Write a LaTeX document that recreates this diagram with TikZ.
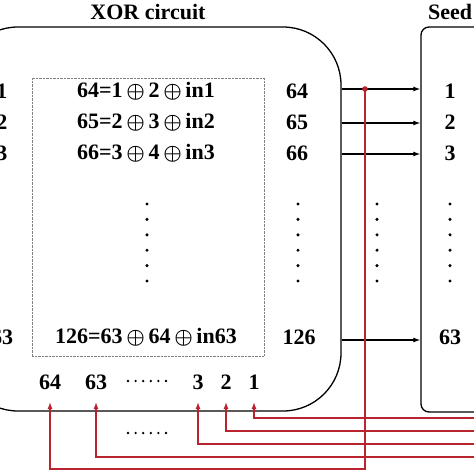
\documentclass[tikz,border=0pt]{standalone}
\usepackage{bm}
\usepackage{fontspec}
\setmainfont{Liberation Serif}
\usepackage{tikz}
\usetikzlibrary{arrows.meta,positioning,calc}
\tikzset{>=latex}
\definecolor{wirered}{RGB}{185,35,45}
\newcommand{\xo}{\,$\bm{\oplus}$\,}
\tikzset{
  lbl/.style={font=\fontsize{22}{24}\selectfont\bfseries, inner sep=0pt},
  ttl/.style={font=\fontsize{22}{26}\selectfont\bfseries, inner sep=0pt},
  blkwire/.style={line width=1.1pt, -{Latex[length=7pt,width=5pt]}},
  redwire/.style={wirered, line width=1.3pt, -{Latex[length=7pt,width=5pt]}},
  block/.style={draw, line width=1.3pt, inner sep=0pt},
}

\begin{document}
\begin{tikzpicture}[x=1pt,y=-1pt]
    \useasboundingbox (0,0) rectangle (474,474);
    \clip (0,0) rectangle (474,474);
    % blocks
    \node [block,rounded corners=58pt,minimum width=381pt,minimum height=384pt] (xor) at (150.5,219) {};
    \node [block,rounded corners=8pt,minimum width=119pt,minimum height=385pt] (seed) at (480.5,219.5) {};
    \node [draw=gray,densely dotted,thin,minimum width=232pt,minimum height=278pt,inner sep=0pt] (inner) at (148,217) {};
    \node [ttl] (xortitle) at (148,12) {XOR circuit};
    \node [ttl,anchor=west] (seedtitle) at (428,12) {Seed};
    % equations
    \node [lbl] (f1) at (146,91) {64=1\xo2\xo in1};
    \node [lbl] (f2) at (146,122) {65=2\xo3\xo in2};
    \node [lbl] (f3) at (146,153) {66=3\xo4\xo in3};
    \node [lbl] (f4) at (146,337) {126=63\xo64\xo in63};
    % left, right and seed labels
    \node [lbl] (l1) at (2,91) {1};
    \node [lbl] (l2) at (2,122) {2};
    \node [lbl] (l3) at (2,153) {3};
    \node [lbl] (l4) at (2,337) {63};
    \node [lbl] (r1) at (297,91) {64};
    \node [lbl] (r2) at (297,122) {65};
    \node [lbl] (r3) at (297,153) {66};
    \node [lbl] (r4) at (299,337) {126};
    \node [lbl] (s1) at (450,91) {1};
    \node [lbl] (s2) at (450,122) {2};
    \node [lbl] (s3) at (450,153) {3};
    \node [lbl] (s4) at (450,337) {63};
    % bottom inputs
    \node [lbl] (b64) at (50,382) {64};
    \node [lbl] (b63) at (96,382) {63};
    \node [lbl] (b3) at (198,382) {3};
    \node [lbl] (b2) at (226,382) {2};
    \node [lbl] (b1) at (254,382) {1};
    % dots
    \foreach \x in {147,298,377,450}
      \foreach \i in {0,...,5}
        \fill (\x,204+\i*15.4) circle (1.7);
    \foreach \i in {0,...,5} {
      \fill (128+\i*7.6,381) circle (1.3);
      \fill (128+\i*7.6,433) circle (1.3);
    }
    % outputs to seed
    \foreach \y/\n in {89/1,123/2,154/3,340/4}
      \draw [blkwire] (xor.east |- 0,\y) coordinate (o\n) -- (seed.west |- o\n);
    % feedback
    \coordinate (tap) at (365,89);
    \coordinate (in64) at (50,402);
    \coordinate (in63) at (96,402);
    \coordinate (in3) at (198,402);
    \coordinate (in2) at (226,402);
    \coordinate (in1) at (254,402);
    \coordinate (e1) at (480,418);
    \coordinate (e2) at (480,431);
    \coordinate (e3) at (480,444);
    \coordinate (e63) at (480,457);
    \draw [redwire] (e1) -| (in1);
    \draw [redwire] (e2) -| (in2);
    \draw [redwire] (e3) -| (in3);
    \draw [redwire] (e63) -| (in63);
    \draw [redwire] (tap) -- (tap |- 0,469) -| (in64);
    \fill [wirered] (tap) circle (2.8);
\end{tikzpicture}
\end{document}
